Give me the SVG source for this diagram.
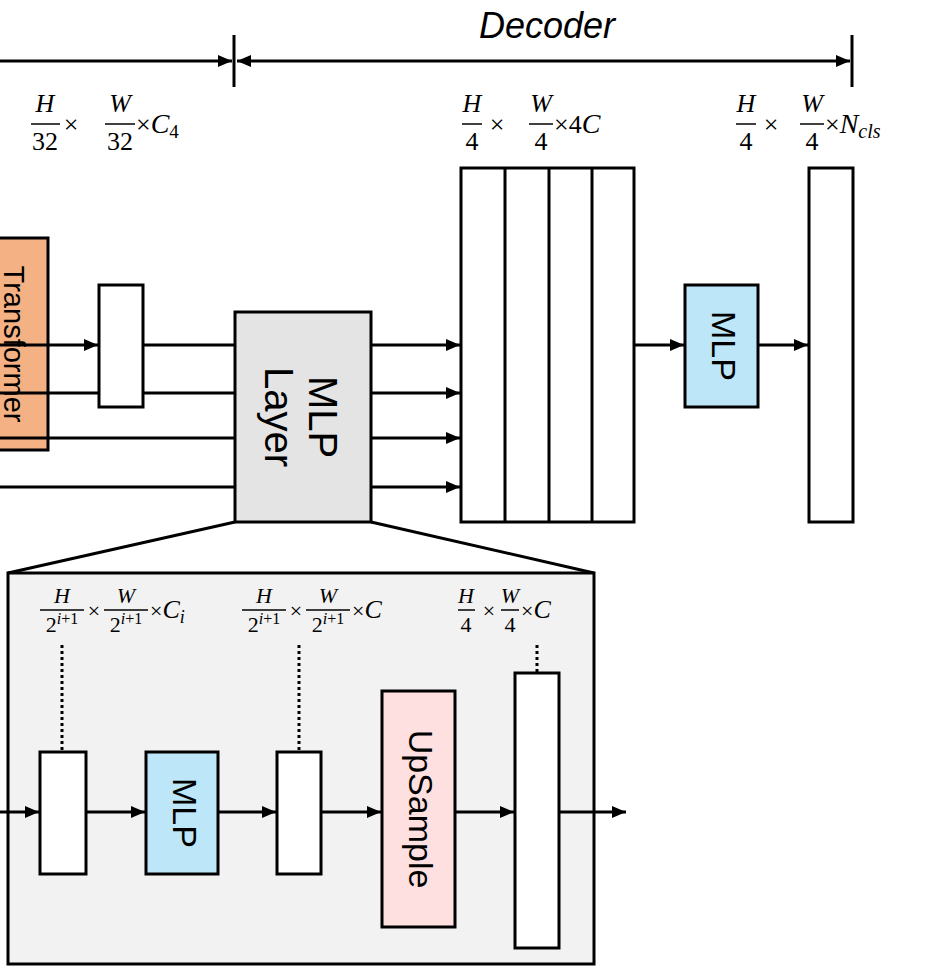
<svg xmlns="http://www.w3.org/2000/svg" width="933" height="969" viewBox="0 0 933 969">
<defs>
<marker id="ah" markerWidth="14" markerHeight="12" refX="14" refY="6" orient="auto-start-reverse" markerUnits="userSpaceOnUse"><path d="M0,0 L14,6 L0,12 z" fill="#000"/></marker>
<style>
.ln{stroke:#000;stroke-width:3;fill:none}
.ar{stroke:#000;stroke-width:3;fill:none;marker-end:url(#ah)}
.bx{stroke:#000;stroke-width:3}
.m{font-family:"Liberation Serif",serif;font-size:26px;text-anchor:middle}
.ms{font-family:"Liberation Serif",serif;font-size:22px;text-anchor:middle}
.st{text-anchor:start}
.i{font-style:italic}
.lb{font-family:"Liberation Sans",Arial,sans-serif;text-anchor:middle}
.fr{stroke:#000;stroke-width:1.5}
.dot{stroke:#000;stroke-width:3;stroke-dasharray:3,3}
</style>
</defs>
<rect width="933" height="969" fill="#fff"/>
<g id="header">
<line class="ar" x1="0" y1="61" x2="232" y2="61"/>
<line class="ln" x1="234" y1="35" x2="234" y2="87"/>
<line class="ln" x1="852" y1="35" x2="852" y2="87"/>
<line class="ar" x1="237" y1="61" x2="850" y2="61" style="marker-start:url(#ah)"/>
<text class="lb" x="547" y="38" font-size="36" font-style="italic">Decoder</text>
</g>
<g id="labels-top">
<text class="m i" x="45" y="112">H</text><line class="fr" x1="31" y1="124" x2="60" y2="124"/><text class="m" x="45" y="150">32</text>
<text class="m" x="71" y="133">×</text>
<text class="m i" x="120" y="112">W</text><line class="fr" x1="105" y1="124" x2="135" y2="124"/><text class="m" x="120" y="150">32</text>
<text class="m st" x="136" y="133">×<tspan class="i" font-size="28">C</tspan><tspan dy="5" font-size="19">4</tspan></text>
<text class="m i" x="472" y="112">H</text><line class="fr" x1="462" y1="124" x2="482" y2="124"/><text class="m" x="472" y="150">4</text>
<text class="m" x="497" y="133">×</text>
<text class="m i" x="541" y="112">W</text><line class="fr" x1="529" y1="124" x2="553" y2="124"/><text class="m" x="541" y="150">4</text>
<text class="m st" x="554" y="133">×4<tspan class="i" font-size="28">C</tspan></text>
<text class="m i" x="746" y="112">H</text><line class="fr" x1="736" y1="124" x2="756" y2="124"/><text class="m" x="746" y="150">4</text>
<text class="m" x="771" y="133">×</text>
<text class="m i" x="812" y="112">W</text><line class="fr" x1="800" y1="124" x2="824" y2="124"/><text class="m" x="812" y="150">4</text>
<text class="m st" x="825" y="133">×<tspan class="i" font-size="28">N</tspan><tspan class="i" dy="5" font-size="20">cls</tspan></text>
</g>
<g id="transformer">
<rect class="bx" x="-5" y="238" width="53" height="212" fill="#F4B183"/>
<text class="lb" font-size="29" transform="translate(12,344) rotate(90)" dominant-baseline="middle">Transformer</text>
</g>
<g id="feat4"><rect class="bx" x="99" y="285" width="44" height="122" fill="#fff"/></g>
<g id="mlp-layer">
<rect class="bx" x="235" y="312" width="136" height="210" fill="#E4E4E4"/>
<text class="lb" font-size="40" transform="translate(303,417) rotate(90)"><tspan x="0" y="-6">MLP</tspan><tspan x="0" y="38">Layer</tspan></text>
</g>
<g id="concat">
<rect class="bx" x="461" y="168" width="173" height="354" fill="#fff"/>
<line class="ln" x1="505" y1="168" x2="505" y2="522"/>
<line class="ln" x1="549" y1="168" x2="549" y2="522"/>
<line class="ln" x1="592" y1="168" x2="592" y2="522"/>
</g>
<g id="mlp-top">
<rect class="bx" x="685" y="285" width="73" height="122" fill="#BDE7F9"/>
<text class="lb" font-size="34" transform="translate(721,346) rotate(90)" dominant-baseline="middle">MLP</text>
</g>
<g id="output"><rect class="bx" x="809" y="168" width="44" height="354" fill="#fff"/></g>
<g id="connectors">
<line class="ar" x1="0" y1="345" x2="98" y2="345"/>
<line class="ln" x1="0" y1="393" x2="99" y2="393"/>
<line class="ln" x1="143" y1="345" x2="235" y2="345"/>
<line class="ln" x1="143" y1="393" x2="235" y2="393"/>
<line class="ln" x1="0" y1="438" x2="235" y2="438"/>
<line class="ln" x1="0" y1="487" x2="235" y2="487"/>
<line class="ar" x1="371" y1="345" x2="460" y2="345"/>
<line class="ar" x1="371" y1="393" x2="460" y2="393"/>
<line class="ar" x1="371" y1="438" x2="460" y2="438"/>
<line class="ar" x1="371" y1="487" x2="460" y2="487"/>
<line class="ar" x1="634" y1="345" x2="684" y2="345"/>
<line class="ar" x1="758" y1="345" x2="808" y2="345"/>
<line class="ln" x1="235" y1="522" x2="8" y2="573"/>
<line class="ln" x1="371" y1="522" x2="594" y2="573"/>
</g>
<g id="detail">
<rect class="bx" x="8" y="573" width="586" height="391" fill="#F2F2F2"/>
<text class="ms i" x="62" y="603">H</text><line class="fr" x1="40" y1="610" x2="84" y2="610"/><text class="ms" x="62" y="632">2<tspan class="i" dy="-8" font-size="16">i</tspan><tspan font-size="16">+1</tspan></text>
<text class="ms" x="94" y="618">×</text>
<text class="ms i" x="126" y="603">W</text><line class="fr" x1="104" y1="610" x2="148" y2="610"/><text class="ms" x="126" y="632">2<tspan class="i" dy="-8" font-size="16">i</tspan><tspan font-size="16">+1</tspan></text>
<text class="ms st" x="150" y="618">×<tspan class="i" font-size="26">C</tspan><tspan class="i" dy="5" font-size="18">i</tspan></text>
<text class="ms i" x="264" y="603">H</text><line class="fr" x1="242" y1="610" x2="286" y2="610"/><text class="ms" x="264" y="632">2<tspan class="i" dy="-8" font-size="16">i</tspan><tspan font-size="16">+1</tspan></text>
<text class="ms" x="296" y="618">×</text>
<text class="ms i" x="328" y="603">W</text><line class="fr" x1="306" y1="610" x2="350" y2="610"/><text class="ms" x="328" y="632">2<tspan class="i" dy="-8" font-size="16">i</tspan><tspan font-size="16">+1</tspan></text>
<text class="ms st" x="352" y="618">×<tspan class="i" font-size="26">C</tspan></text>
<text class="ms i" x="466" y="603">H</text><line class="fr" x1="458" y1="610" x2="475" y2="610"/><text class="ms" x="466" y="632">4</text>
<text class="ms" x="489" y="618">×</text>
<text class="ms i" x="510" y="603">W</text><line class="fr" x1="501" y1="610" x2="519" y2="610"/><text class="ms" x="510" y="632">4</text>
<text class="ms st" x="521" y="618">×<tspan class="i" font-size="26">C</tspan></text>
<line class="dot" x1="62" y1="645" x2="62" y2="752"/>
<line class="dot" x1="299" y1="645" x2="299" y2="752"/>
<line class="dot" x1="537" y1="645" x2="537" y2="673"/>
</g>
<g id="d-in"><rect class="bx" x="40" y="752" width="46" height="122" fill="#fff"/></g>
<g id="d-mlp">
<rect class="bx" x="146" y="752" width="72" height="122" fill="#BDE7F9"/>
<text class="lb" font-size="34" transform="translate(182,813) rotate(90)" dominant-baseline="middle">MLP</text>
</g>
<g id="d-mid"><rect class="bx" x="277" y="752" width="44" height="122" fill="#fff"/></g>
<g id="d-up">
<rect class="bx" x="382" y="691" width="73" height="236" fill="#FFE0E0"/>
<text class="lb" font-size="34" transform="translate(418,809) rotate(90)" dominant-baseline="middle">UpSample</text>
</g>
<g id="d-out"><rect class="bx" x="515" y="673" width="44" height="275" fill="#fff"/></g>
<g id="d-connectors">
<line class="ar" x1="0" y1="812" x2="39" y2="812"/>
<line class="ar" x1="86" y1="812" x2="145" y2="812"/>
<line class="ar" x1="218" y1="812" x2="276" y2="812"/>
<line class="ar" x1="321" y1="812" x2="381" y2="812"/>
<line class="ar" x1="455" y1="812" x2="514" y2="812"/>
<line class="ar" x1="559" y1="812" x2="626" y2="812"/>
</g>
</svg>
